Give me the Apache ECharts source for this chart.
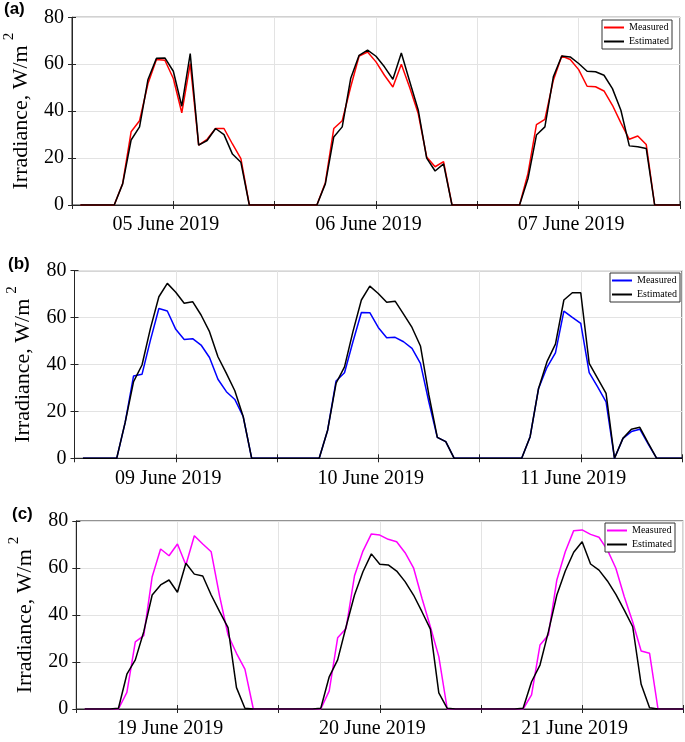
<!DOCTYPE html>
<html>
<head>
<meta charset="utf-8">
<script src="https://cdn.jsdelivr.net/npm/echarts/dist/echarts.min.js"></script>
<style>
html,body{margin:0;padding:0;background:#fff;}
#chart{width:685px;height:742px;}
</style>
</head>
<body>
<div id="chart"></div>
<script>
// ---- data (hourly values, hours 1..72, three days per panel) ----
var yTicks = [0, 20, 40, 60, 80];
var daysA = ['05 June 2019', '06 June 2019', '07 June 2019'];
var daysB = ['09 June 2019', '10 June 2019', '11 June 2019'];
var daysC = ['19 June 2019', '20 June 2019', '21 June 2019'];
var seriesNames = ['Measured', 'Estimated'];

var measuredA = [
  0,0,0,0,0,9.2,31.2,35.9,51.8,62,61.7,53.9,39.3,60.3,25.5,28,32.6,32.6,26,19.8,0,0,0,0,
  0,0,0,0,0,9.5,32.6,35.9,50.3,63.5,65.2,61,55.3,50.3,60,50,39,20.5,16.3,18.5,0,0,0,0,
  0,0,0,0,0,13.5,34.3,36.5,53.2,63.5,62,57.7,50.6,50.4,48.6,42.5,35,28,29.4,25.8,0,0,0,0
];
var estimatedA = [
  0,0,0,0,0,9,27.7,33.3,53.5,62.5,62.7,57,42.1,64.5,25.5,27.5,32.6,30,21.7,18.2,0,0,0,0,
  0,0,0,0,0,9,29,33.3,53.9,63.8,66,63.4,58.9,53.6,64.8,52.5,40.5,20,14.5,17.5,0,0,0,0,
  0,0,0,0,0,11.3,29.8,33.3,54.6,63.5,63.1,60.3,57,56.8,55.3,49.6,40.4,25.2,24.8,24.1,0,0,0,0
];
var measuredB = [
  0,0,0,0,0,15.2,35.1,35.8,50.4,63.9,62.8,55,50.7,51,48.3,43,33.7,28.4,25.1,17.7,0,0,0,0,
  0,0,0,0,0,12,33,36.5,49.7,62.2,62.1,55.8,51.4,51.6,49.7,46.9,40.5,24,8.9,7.1,0,0,0,0,
  0,0,0,0,0,9.2,29.8,38.8,45,62.8,60.1,57.5,36.5,30.5,24.1,0,8.5,11.4,12.4,6,0,0,0,0
];
var estimatedB = [
  0,0,0,0,0,15.2,32.7,39.8,55.4,68.9,74.6,70.8,66.1,66.8,61.1,54,43.3,36.2,28.8,17.7,0,0,0,0,
  0,0,0,0,0,12,32,39,54,67.5,73.4,70.3,66.5,67,61.5,55.8,47.9,27,8.9,7.1,0,0,0,0,
  0,0,0,0,0,9.2,29.8,41.2,48.7,67.5,70.6,70.6,40.5,34.1,27.7,0,8.5,12.4,13.2,6.5,0,0,0,0
];
var measuredC = [
  0,0,0,0,0,7.1,28.6,31.2,56.3,68.1,65.2,70.2,61.3,73.7,70.2,66.9,48,31.5,23.7,17,0,0,0,0,
  0,0,0,0,0,7.7,30.3,34.3,56.7,67.2,74.5,74,72.2,71.2,66.5,60.1,47.1,35,22.3,0,0,0,0,0,
  0,0,0,0,0,6,27.2,31.5,54.9,66.9,75.9,76.2,74.3,73.1,67.7,59.9,47.8,37,24.7,23.7,0,0,0,0
];
var estimatedC = [
  0,0,0,0,0.3,14.8,20.9,32.9,48.5,52.8,54.9,49.7,62,57.4,56.6,48.5,41.4,34.6,9.1,0.3,0,0,0,0,
  0,0,0,0,0.3,13.7,20.9,35,48.5,58.4,66,61.6,61.3,58.7,54.2,48.5,41.4,34,6.9,0.3,0,0,0,0,
  0,0,0,0,0.3,11.6,18.7,32.9,48.5,58.7,66.7,71.2,61.7,59.1,54.5,48.8,42.1,35,10.5,0.5,0,0,0,0
];

// ---- layout / style ----
var SERIF = '"Liberation Serif","Times New Roman",serif';
var panels = [
  {tag:'(a)', days:daysA, m:measuredA, e:estimatedA, color:'#ff0000',
   grid:{left:72, top:17.3, width:608, height:187.7},
   legend:{right:13, top:20}, label:{x:4, y:1}},
  {tag:'(b)', days:daysB, m:measuredB, e:estimatedB, color:'#0000ff',
   grid:{left:74.5, top:270.7, width:607.5, height:187.6},
   legend:{right:5, top:273}, label:{x:8, y:256}},
  {tag:'(c)', days:daysC, m:measuredC, e:estimatedC, color:'#ff00ff',
   grid:{left:76.3, top:521, width:607, height:188},
   legend:{right:10, top:523}, label:{x:12, y:506}}
];

var grids = [], xAxes = [], yAxes = [], series = [], legends = [], graphics = [];
panels.forEach(function (p, i) {
  grids.push({left:p.grid.left, top:p.grid.top, width:p.grid.width, height:p.grid.height,
    show:true, borderColor:'#262626', borderWidth:1, backgroundColor:'#fff', containLabel:false,
    outerBoundsMode:'none'});
  var days = p.days;
  xAxes.push({type:'value', gridIndex:i, min:0, max:72, interval:12, position:'bottom',
    axisLine:{show:true, lineStyle:{color:'#262626', width:1}},
    axisTick:{show:true, inside:true, length:4, lineStyle:{color:'#262626'}},
    splitLine:{show:true, lineStyle:{color:'#e3e3e3', width:1}},
    axisLabel:{show:true, margin:10, color:'#000', fontFamily:SERIF, fontSize:20,
      padding:[0,15,0,0], showMinLabel:true, showMaxLabel:true,
      formatter:function (v) { var k = (v - 12) / 24; return (k === Math.floor(k) && k >= 0 && k < days.length) ? days[k] : ''; }}
  });
  xAxes.push({type:'value', gridIndex:i, min:0, max:72, interval:12, position:'top',
    axisLine:{show:true, lineStyle:{color:'#262626', width:1}},
    axisTick:{show:true, inside:true, length:4, lineStyle:{color:'#262626'}},
    splitLine:{show:false}, axisLabel:{show:false}});
  yAxes.push({type:'value', gridIndex:i, min:yTicks[0], max:yTicks[yTicks.length-1], interval:20, position:'left',
    axisLine:{show:true, lineStyle:{color:'#262626', width:1}},
    axisTick:{show:true, inside:true, length:4, lineStyle:{color:'#262626'}},
    splitLine:{show:true, lineStyle:{color:'#e3e3e3', width:1}},
    axisLabel:{margin:8, color:'#000', fontFamily:SERIF, fontSize:20},
    name:'{a|Irradiance, W/m}{s|2}', nameLocation:'middle', nameGap:40, nameRotate:90,
    nameTextStyle:{color:'#000', fontFamily:SERIF,
      rich:{a:{fontSize:22, fontFamily:SERIF, color:'#000', verticalAlign:'bottom', lineHeight:30},
            s:{fontSize:15, fontFamily:SERIF, color:'#000', verticalAlign:'top', lineHeight:30, padding:[0,0,0,5]}}}
  });
  yAxes.push({type:'value', gridIndex:i, min:yTicks[0], max:yTicks[yTicks.length-1], interval:20, position:'right',
    axisLine:{show:true, lineStyle:{color:'#262626', width:1}},
    axisTick:{show:true, inside:true, length:4, lineStyle:{color:'#262626'}},
    splitLine:{show:false}, axisLabel:{show:false}});
  var mName = seriesNames[0] + '|' + i, eName = seriesNames[1] + '|' + i;
  series.push({name:mName, type:'line', xAxisIndex:2*i, yAxisIndex:2*i, symbol:'none',
    data:p.m.map(function (v, k) { return [k + 1, v]; }),
    lineStyle:{color:p.color, width:1.5}, itemStyle:{color:p.color}, z:2});
  series.push({name:eName, type:'line', xAxisIndex:2*i, yAxisIndex:2*i, symbol:'none',
    data:p.e.map(function (v, k) { return [k + 1, v]; }),
    lineStyle:{color:'#000', width:1.5}, itemStyle:{color:'#000'}, z:3});
  legends.push({data:[mName, eName], orient:'vertical', right:p.legend.right, top:p.legend.top,
    selectedMode:false, icon:'rect', itemWidth:20, itemHeight:2, itemGap:3,
    padding:[2,3,2,2], borderColor:'#333', borderWidth:1, backgroundColor:'#fff',
    textStyle:{fontFamily:SERIF, fontSize:10, color:'#000', lineHeight:11},
    formatter:function (n) { return n.split('|')[0]; }});
  graphics.push({type:'text', left:p.label.x, top:p.label.y,
    style:{text:p.tag, font:'bold 17px "Liberation Sans", Arial, sans-serif', fill:'#000'}});
});

var chart = echarts.init(document.getElementById('chart'), null, {renderer:'canvas'});
chart.setOption({
  animation:false,
  backgroundColor:'#fff',
  grid:grids, xAxis:xAxes, yAxis:yAxes, series:series, legend:legends, graphic:graphics
});
</script>
</body>
</html>
